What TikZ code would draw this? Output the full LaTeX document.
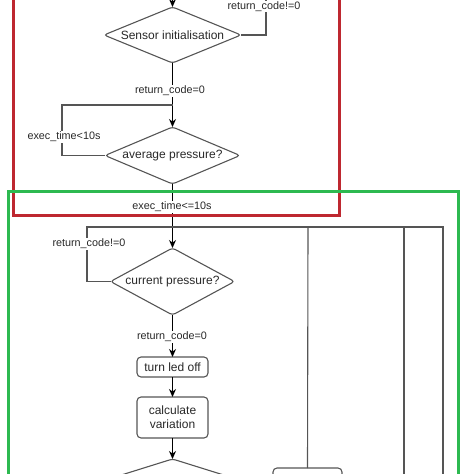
\documentclass[tikz,border=0pt]{standalone}
\usepackage{fontspec}
\setmainfont{Liberation Sans}
\usetikzlibrary{positioning}
\usetikzlibrary{shapes.geometric}
\usetikzlibrary{arrows.meta}

\definecolor{linegray}{RGB}{85,85,85}
\definecolor{textgray}{RGB}{40,40,40}
\definecolor{boxred}{RGB}{190,40,48}
\definecolor{boxgreen}{RGB}{45,185,80}

\tikzset{
	decision/.style = {diamond, draw = linegray, line width = 1.1bp, rounded corners = 3bp, inner sep = 0pt, outer sep = 0pt, text = textgray, font = \fontsize{12bp}{14bp}\selectfont},
	process/.style = {rectangle, draw = linegray, line width = 1.1bp, rounded corners = 4bp, inner sep = 0pt, outer sep = 0pt, align = center, text = textgray, font = \fontsize{12bp}{14bp}\selectfont},
	edgelabel/.style = {fill = white, inner sep = 1bp, text = textgray, font = \fontsize{10.8bp}{13bp}\selectfont},
	flow/.style = {black, line width = 1bp},
	flowarrow/.style = {flow, -{Stealth[length = 8bp, width = 7bp]}},
	backline/.style = {linegray, line width = 1.1bp},
	frame/.style = {line width = 3bp}
}

\begin{document}
\begin{tikzpicture}[x = 1bp, y = -1bp]
	\useasboundingbox (0, 0) rectangle (474, 474);
	\clip (0, 0) rectangle (474, 474);

	% decisions and steps
	\node [decision, aspect = 2.45, minimum width = 137bp, minimum height = 56bp] (init) at (172.5, 35) {Sensor initialisation};
	\node [decision, aspect = 2.37, minimum width = 135bp, minimum height = 57bp] (avg) at (172.5, 155.5) {average pressure?};
	\node [decision, aspect = 1.85, minimum width = 124bp, minimum height = 67bp] (cur) at (172.5, 281.5) {current pressure?};
	\node [process, minimum width = 71bp, minimum height = 20bp] (ledoff) at (172.5, 367) {turn led off};
	\node [process, minimum width = 71bp, minimum height = 41bp] (calcvar) at (172.5, 417.5) {calculate\\variation};
	\node [decision, aspect = 3.2, minimum width = 160bp, minimum height = 50bp] (next) at (172.5, 484) {};
	\node [process, minimum width = 69bp, minimum height = 30bp] (rbox) at (307.5, 483) {};

	% helper points
	\coordinate (start) at (172.5, -10);
	\coordinate (initR) at (266, 35);
	\coordinate (initU) at (266, -10);
	\coordinate (j1) at (172.5, 105);
	\coordinate (l1a) at (62, 155.5);
	\coordinate (l1b) at (62, 105);
	\coordinate (j2) at (172.5, 227);
	\coordinate (l2a) at (87, 281.5);
	\coordinate (l2b) at (87, 227);
	\coordinate (r1) at (308, 227);
	\coordinate (r2) at (404, 227);
	\coordinate (r3) at (443, 227);
	\coordinate (r2b) at (404, 490);
	\coordinate (r3b) at (443, 490);

	% connectors
	\draw [flowarrow] (start) -- (init.north);
	\draw [backline] (init.east) -- (initR) -- (initU);
	\draw [flow] (init.south) -- (j1);
	\draw [flowarrow] (j1) -- (avg.north);
	\draw [backline] (avg.west) -- (l1a) -- (l1b) -- (j1);
	\draw [flowarrow] (avg.south) -- (cur.north);
	\draw [backline] (cur.west) -- (l2a) -- (l2b) -- (j2);
	\draw [backline] (j2) -- (r3) -- (r3b);
	\draw [backline] (r1) -- (rbox.north);
	\draw [backline] (r2) -- (r2b);
	\draw [flowarrow] (cur.south) -- (ledoff.north);
	\draw [flowarrow] (ledoff.south) -- (calcvar.north);
	\draw [flowarrow] (calcvar.south) -- (next.north);

	% edge labels
	\node [edgelabel] (lblinitno) at (264, 6.5) {return\_code!=0};
	\node [edgelabel] (lblinitok) at (170, 91) {return\_code=0};
	\node [edgelabel] (lblwait) at (64, 137) {exec\_time<10s};
	\node [edgelabel] (lbldone) at (172, 207) {exec\_time<=10s};
	\node [edgelabel] (lblcurno) at (89, 244) {return\_code!=0};
	\node [edgelabel] (lblcurok) at (172, 337) {return\_code=0};

	% frames
	\draw [frame, boxred] (13, -10) rectangle (339, 216);
	\draw [frame, boxgreen] (8, 192) rectangle (458, 490);
\end{tikzpicture}
\end{document}
